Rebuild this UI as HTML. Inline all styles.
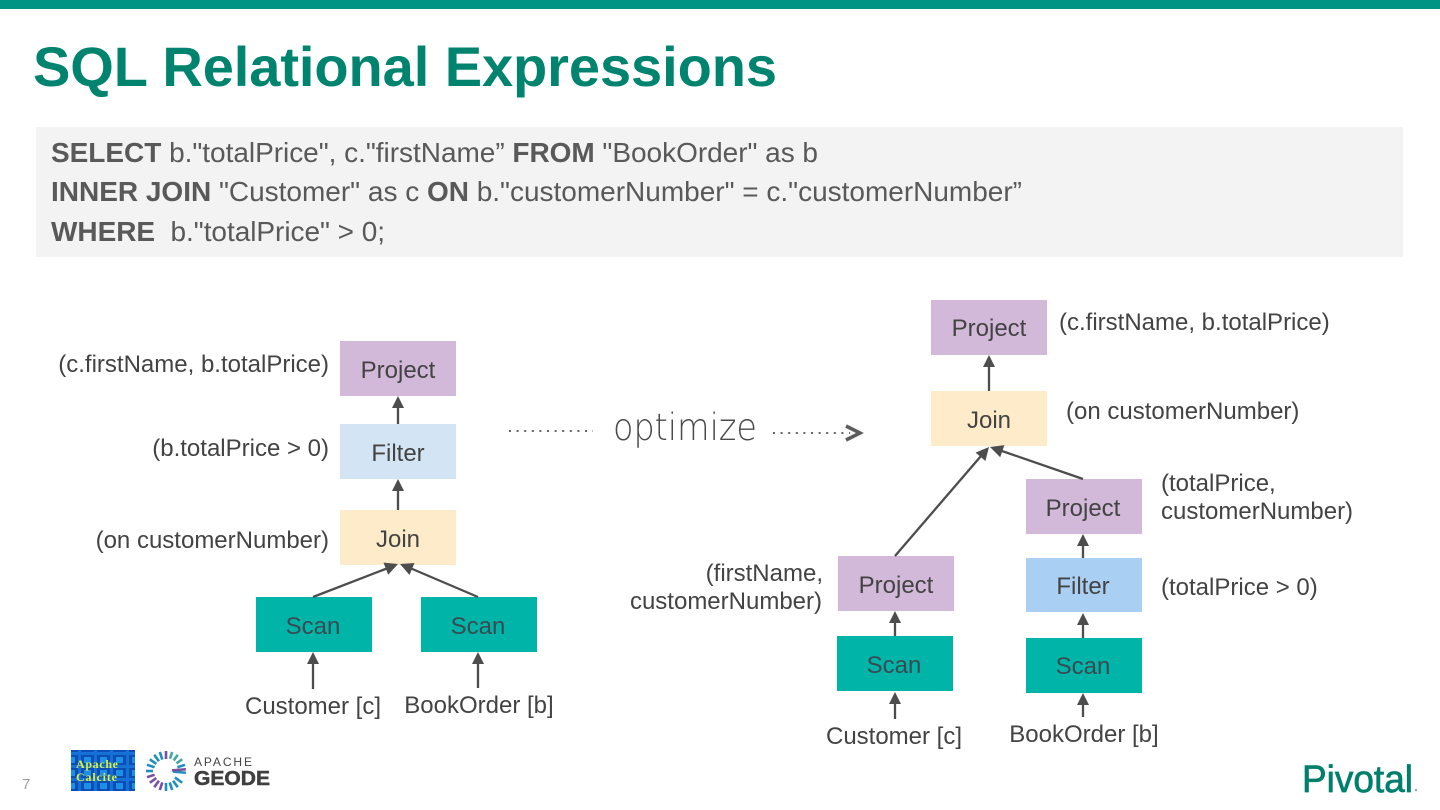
<!DOCTYPE html>
<html><head><meta charset="utf-8"><style>
html,body{margin:0;padding:0;background:#fff;width:1440px;height:810px;overflow:hidden}
svg{display:block}
text{font-family:"Liberation Sans",sans-serif;fill:#434343;font-size:24px}
.m{text-anchor:middle}.e{text-anchor:end}
.q{font-size:28px;fill:#595959}
.q tspan{font-weight:bold}
.ar line{stroke:#4d4d4d;stroke-width:2.3}
.ar polygon{fill:#4d4d4d}
.r line{stroke-width:2.6}
</style></head><body>
<svg width="1440" height="810" viewBox="0 0 1440 810" xmlns="http://www.w3.org/2000/svg">
<rect width="1440" height="9" fill="#009484"/>
<text x="33" y="86" style="font-size:56px;font-weight:bold;fill:#00846f" textLength="744">SQL Relational Expressions</text>
<rect x="36" y="127" width="1367" height="130" fill="#f3f3f3"/>
<text class="q" x="51" y="162" textLength="767"><tspan>SELECT</tspan> b."totalPrice", c."firstName” <tspan>FROM</tspan> "BookOrder" as b</text>
<text class="q" x="51" y="201" textLength="971"><tspan>INNER JOIN</tspan> "Customer" as c <tspan>ON</tspan> b."customerNumber" = c."customerNumber”</text>
<text class="q" x="51" y="241" xml:space="preserve" textLength="334"><tspan>WHERE</tspan>  b."totalPrice" &gt; 0;</text>

<!-- left tree -->
<rect x="340" y="341" width="116" height="55" fill="#d2b9d9"/>
<rect x="340" y="424" width="116" height="55" fill="#d3e5f5"/>
<rect x="340" y="510" width="116" height="55" fill="#fdebc9"/>
<rect x="256" y="597" width="116" height="55" fill="#00b5a7"/>
<rect x="421" y="597" width="116" height="55" fill="#00b5a7"/>
<text class="m" x="398" y="378">Project</text>
<text class="m" x="398" y="461">Filter</text>
<text class="m" x="398" y="547">Join</text>
<text class="m" x="313" y="634" style="fill:#3a4a52">Scan</text>
<text class="m" x="478" y="634" style="fill:#3a4a52">Scan</text>
<text class="e" x="329" y="372">(c.firstName, b.totalPrice)</text>
<text class="e" x="329" y="456">(b.totalPrice &gt; 0)</text>
<text class="e" x="329" y="548">(on customerNumber)</text>
<text class="m" x="313" y="714">Customer [c]</text>
<text class="m" x="479" y="713">BookOrder [b]</text>

<!-- right tree -->
<rect x="931" y="300" width="116" height="55" fill="#d2b9d9"/>
<rect x="931" y="391" width="116" height="55" fill="#fdebc9"/>
<rect x="1026" y="479" width="116" height="55" fill="#d2b9d9"/>
<rect x="838" y="556" width="116" height="55" fill="#d2b9d9"/>
<rect x="1026" y="558" width="116" height="54" fill="#a9d0f2"/>
<rect x="837" y="636" width="116" height="55" fill="#00b5a7"/>
<rect x="1026" y="638" width="116" height="55" fill="#00b5a7"/>
<text class="m" x="989" y="336">Project</text>
<text class="m" x="989" y="428">Join</text>
<text class="m" x="1083" y="516">Project</text>
<text class="m" x="896" y="593">Project</text>
<text class="m" x="1083" y="594">Filter</text>
<text class="m" x="894" y="673" style="fill:#3a4a52">Scan</text>
<text class="m" x="1083" y="674" style="fill:#3a4a52">Scan</text>
<text x="1059" y="330">(c.firstName, b.totalPrice)</text>
<text x="1066" y="419">(on customerNumber)</text>
<text x="1161" y="491">(totalPrice,</text>
<text x="1161" y="519">customerNumber)</text>
<text x="1161" y="595">(totalPrice &gt; 0)</text>
<text class="e" x="823" y="581">(firstName,</text>
<text class="e" x="822" y="609">customerNumber)</text>
<text class="m" x="894" y="744">Customer [c]</text>
<text class="m" x="1084" y="742">BookOrder [b]</text>

<!-- arrows -->
<g class="ar">
<line x1="398" y1="424" x2="398" y2="405"/><polygon points="398,396 392,408 404,408"/>
<line x1="398" y1="510" x2="398" y2="488"/><polygon points="398,479 392,491 404,491"/>
<line x1="313" y1="597" x2="388" y2="568"/><polygon points="398,564 388.2,574.8 383.5,562.6"/>
<line x1="478" y1="597" x2="410" y2="568"/><polygon points="400,564 414.5,563 409.5,575"/>
<line x1="313" y1="689" x2="313" y2="660"/><polygon points="313,652 307,664 319,664"/>
<line x1="478" y1="688" x2="478" y2="660"/><polygon points="478,652 472,664 484,664"/>
<line x1="989" y1="391" x2="989" y2="364"/><polygon points="989,355 983,367 995,367"/>
<line x1="895" y1="556" x2="981" y2="456"/><polygon points="989,447 985.4,461 975.6,452.6"/>
<line x1="1083" y1="479" x2="1002" y2="451"/><polygon points="990,447 1004.4,445.1 1000.2,457.3"/>
<line x1="1083" y1="558" x2="1083" y2="543"/><polygon points="1083,534 1077,546 1089,546"/>
<line x1="1083" y1="638" x2="1083" y2="622"/><polygon points="1083,613 1077,625 1089,625"/>
<line x1="1083" y1="717" x2="1083" y2="702"/><polygon points="1083,693 1077,705 1089,705"/>
<line x1="895" y1="636" x2="895" y2="620"/><polygon points="895,611 889,623 901,623"/>
<line x1="895" y1="719" x2="895" y2="701"/><polygon points="895,692 889,704 901,704"/>
</g>

<!-- optimize -->
<line x1="509" y1="431" x2="593" y2="431" stroke="#666" stroke-width="2" stroke-dasharray="2 5.6"/>
<line x1="773" y1="433" x2="850" y2="433" stroke="#666" stroke-width="2" stroke-dasharray="2 5.6"/>
<polyline points="846,426 860,433 846,440" fill="none" stroke="#5c5c5c" stroke-width="3.5"/>
<text x="613" y="440" style="font-size:37px;fill:#4a4a4a;font-family:'DejaVu Sans',sans-serif;font-weight:200" textLength="144" lengthAdjust="spacingAndGlyphs">optimize</text>

<!-- footer -->
<text x="22" y="789" style="font-size:15px;fill:#a0a0a0">7</text>
<defs><pattern id="g" width="16" height="13" patternUnits="userSpaceOnUse"><rect width="16" height="13" fill="#1570d8"/><rect x="1" y="1" width="13" height="10" fill="#0c4fb4"/><rect x="4" y="3" width="7" height="6" fill="#1d8fe6"/></pattern></defs>
<rect x="71" y="750" width="64" height="41" fill="url(#g)"/>
<text x="76" y="768" style="font-size:12px;font-weight:bold;font-family:'Liberation Serif',serif;fill:#dcf23c" textLength="42">Apache</text>
<text x="76" y="781" style="font-size:12px;font-weight:bold;font-family:'Liberation Serif',serif;fill:#dcf23c" textLength="41">Calcite</text>
<g class="r" transform="translate(166 771)">
<g stroke="#1f8fbd">
<line y1="-12" y2="-20" transform="rotate(-18)"/>
<line y1="-12" y2="-20" transform="rotate(-36)"/>
<line y1="-12" y2="-20" transform="rotate(-72)"/>
<line y1="-13" y2="-20" transform="rotate(-90)"/>
<line y1="-12" y2="-20" transform="rotate(72)"/>
<line y1="-7" y2="-20" transform="rotate(95)"/>
<line y1="-11" y2="-20" transform="rotate(126)"/>
<line y1="-12" y2="-20" transform="rotate(144)"/>
<line y1="-12" y2="-20" transform="rotate(162)"/>
<line y1="-12" y2="-20" transform="rotate(180)"/>
<line y1="-12" y2="-20" transform="rotate(-54)"/>
</g>
<g stroke="#7b4f9e">
<line y1="-12" y2="-20" transform="rotate(0)"/>
<line y1="-12" y2="-20" transform="rotate(-108)"/>
<line y1="-12" y2="-20" transform="rotate(-126)"/>
<line y1="-12" y2="-20" transform="rotate(-144)"/>
<line y1="-12" y2="-20" transform="rotate(-162)"/>
<line y1="-6" y2="-20" transform="rotate(85)"/>
</g>
<g stroke="#3fa9a0">
<line y1="-13" y2="-20" transform="rotate(18)"/>
<line y1="-13" y2="-20" transform="rotate(36)"/>
<line y1="-13" y2="-20" transform="rotate(54)"/>
</g>
</g>
<text x="194" y="766" style="font-size:12px;fill:#444" textLength="58">APACHE</text>
<text x="194" y="785" style="font-size:20px;font-weight:bold;fill:#3f3f3f;stroke:#3f3f3f;stroke-width:.5" textLength="76" lengthAdjust="spacingAndGlyphs">GEODE</text>
<text x="1302" y="792" style="font-size:38px;fill:#007f6d;stroke:#007f6d;stroke-width:.7" textLength="111" lengthAdjust="spacingAndGlyphs">Pivotal</text>
<circle cx="1416" cy="790" r="1.2" fill="#7fb5ab"/>
</svg>
</body></html>
